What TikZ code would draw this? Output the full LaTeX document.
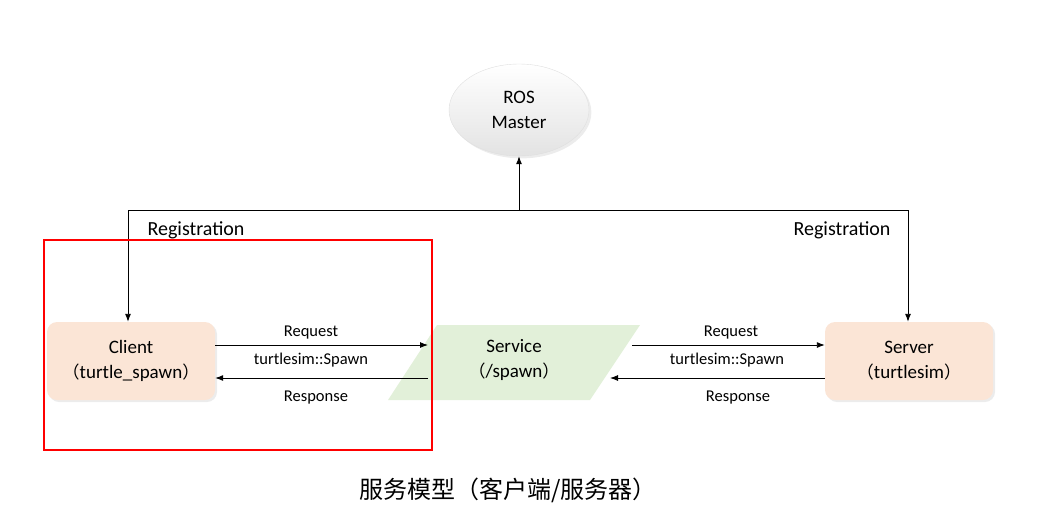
\documentclass[tikz,border=0pt]{standalone}
\usepackage{fontspec}
\setmainfont{Carlito}
\newfontfamily\cjk{Noto Sans CJK SC}
\usetikzlibrary{shapes.geometric,arrows.meta,shadows}
\definecolor{peach}{HTML}{FBE5D6}
\definecolor{lgreen}{HTML}{E2F0D9}
\begin{document}
\begin{tikzpicture}[x=1pt,y=-1pt,
  box/.style={rectangle,rounded corners=10pt,fill=peach,minimum width=168pt,minimum height=78pt,align=center,font=\fontsize{19}{25}\selectfont,drop shadow={opacity=0.15,shadow xshift=2pt,shadow yshift=-2pt}},
  lbl/.style={font=\fontsize{16.5}{18}\selectfont},
  arr/.style={-{Latex[length=8pt,width=6pt]},line width=0.9pt}]
\useasboundingbox (0,0) rectangle (1059,531);
\node[ellipse,minimum width=140pt,minimum height=92pt,top color=white,bottom color=gray!22,draw=gray!25,align=center,font=\fontsize{19}{25}\selectfont,drop shadow={opacity=0.15}] (m) at (519,110) {ROS\\Master};
\node[box] (c) at (131,361) {Client\\{\cjk\fontsize{17}{25}\selectfont （}turtle\_spawn{\cjk\fontsize{17}{25}\selectfont ）}};
\node[box] (s) at (909,361) {Server\\{\cjk\fontsize{17}{25}\selectfont （}turtlesim{\cjk\fontsize{17}{25}\selectfont ）}};
\fill[lgreen] (437,325) -- (640,325) -- (590,400) -- (388,400) -- cycle;
\node[align=center,font=\fontsize{19}{25}\selectfont] (sv) at (514,360) {Service\\{\cjk\fontsize{17}{25}\selectfont （}/spawn{\cjk\fontsize{17}{25}\selectfont ）}};
\coordinate (j) at (519,210);
\coordinate (jl) at (128,210);
\coordinate (jr) at (908,210);
\draw[arr] (j) -- (m.south);
\draw[line width=0.9pt] (jl) -- (jr);
\draw[arr] (jl) -- (c.north -| jl);
\draw[arr] (jr) -- (s.north -| jr);
\node[font=\fontsize{20}{22}\selectfont] at (196,230) {Registration};
\node[font=\fontsize{20}{22}\selectfont] at (842,230) {Registration};
\coordinate (sl1) at (428,345);
\coordinate (sl2) at (428,378);
\coordinate (sr1) at (632,345);
\coordinate (sr2) at (610,378);
\draw[arr] (c.east |- sl1) -- (sl1);
\draw[arr] (sl2) -- (c.east |- sl2);
\draw[arr] (sr1) -- (s.west |- sr1);
\draw[arr] (s.west |- sr2) -- (sr2);
\node[lbl] at (311,333) {Request};
\node[lbl] at (311,360) {turtlesim::Spawn};
\node[lbl] at (316,398) {Response};
\node[lbl] at (731,333) {Request};
\node[lbl] at (727,360) {turtlesim::Spawn};
\node[lbl] at (738,398) {Response};
\draw[red,line width=1.5pt] (44,240) rectangle (432,450);
\node[font=\cjk\fontsize{24}{28}\selectfont] at (508,490) {服务模型（客户端/服务器）};
\end{tikzpicture}
\end{document}
